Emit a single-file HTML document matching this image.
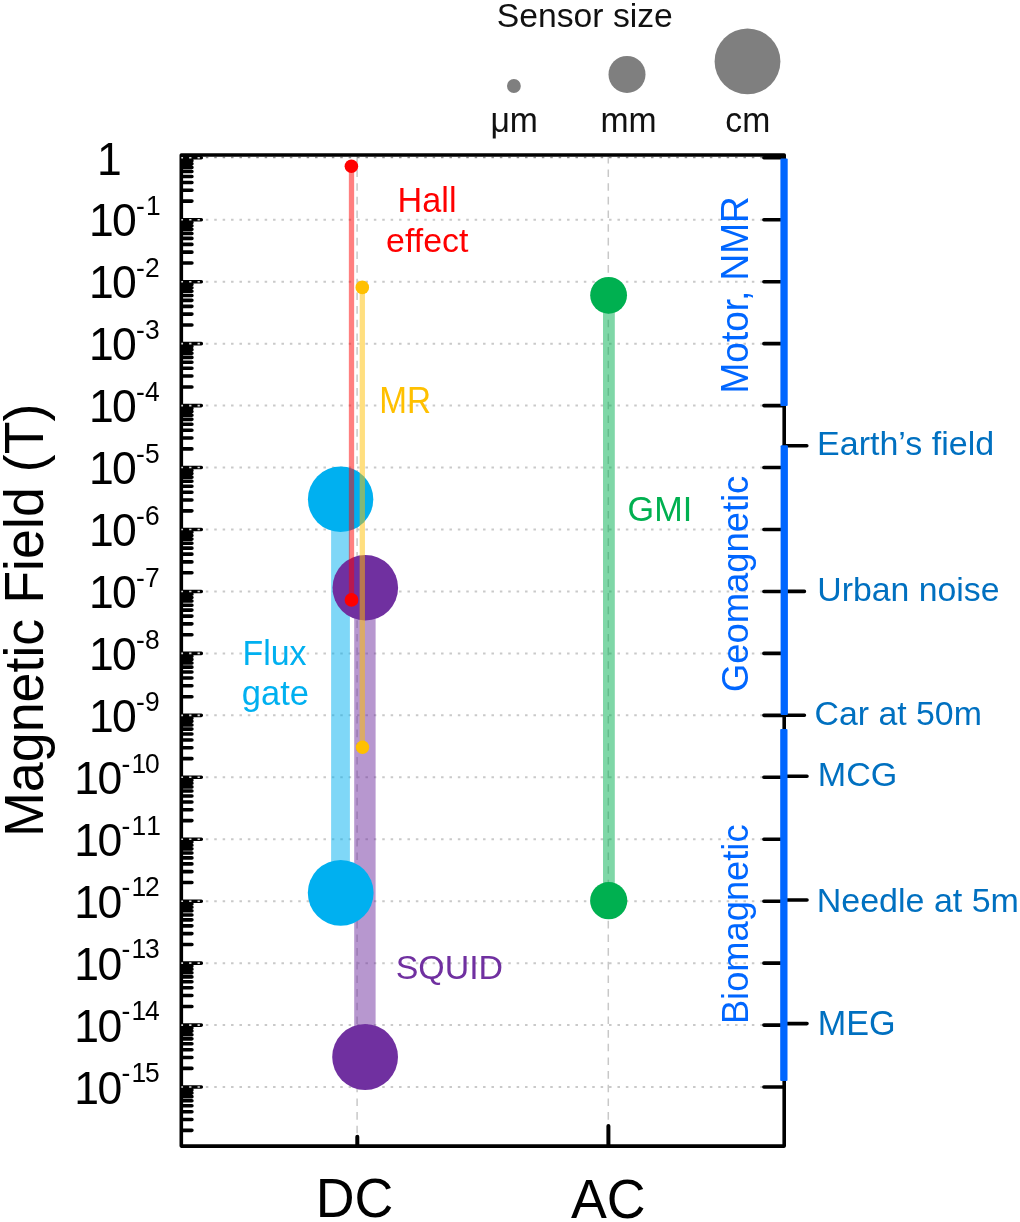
<!DOCTYPE html>
<html lang="en"><head><meta charset="utf-8"><title>Magnetic field sensors</title>
<style>html,body{margin:0;padding:0;background:#fff}body{width:1020px;height:1222px;overflow:hidden}svg{display:block;filter:blur(0.45px)}text{font-family:"Liberation Sans",Arial,Helvetica,sans-serif}</style></head><body>
<svg width="1020" height="1222" viewBox="0 0 1020 1222">
<rect width="1020" height="1222" fill="#fff"/>
<g fill="#7f7f7f"><circle cx="513.9" cy="86" r="6.9"/><circle cx="627" cy="74.4" r="18.5"/><circle cx="747.5" cy="61.4" r="32.9"/></g>
<text x="496.8" y="27" font-size="33.7" fill="#111">Sensor size</text>
<g font-size="33.7" fill="#111"><text transform="matrix(1 0 0 1.06 490.4 131.6)">μm</text><text transform="matrix(1 0 0 1.06 600.4 131.6)">mm</text><text transform="matrix(1 0 0 1.06 725.3 131.6)">cm</text></g>
<g stroke="#c8c8c8" stroke-width="1.5" stroke-dasharray="7.6 6.06" fill="none">
<path d="M357.1 155.84V1146.1"/><path d="M608.3 155.84V1146.1"/></g>
<path d="M181.3 157.5H784.2" stroke="#909090" stroke-width="1.6" stroke-dasharray="2.5 5.9" stroke-dashoffset="0.65" fill="none"/>
<path d="M181.3 219.75H784.2M181.3 281.70H784.2M181.3 343.65H784.2M181.3 405.60H784.2M181.3 467.55H784.2M181.3 529.50H784.2M181.3 591.45H784.2M181.3 653.40H784.2M181.3 715.35H784.2M181.3 777.30H784.2M181.3 839.25H784.2M181.3 901.20H784.2M181.3 963.15H784.2M181.3 1025.10H784.2M181.3 1087.05H784.2" stroke="#c9c9c9" stroke-width="2" stroke-dasharray="2.5 5.9" stroke-dashoffset="0.65" fill="none"/>
<g fill-opacity="0.5">
<rect x="603" y="295.3" width="11.8" height="605.4" fill="#00b050"/>
<rect x="354.2" y="587.8" width="21.4" height="469.2" fill="#7030a0"/>
<rect x="331.1" y="499.3" width="18.8" height="393.5" fill="#00b0f0"/>
</g>
<g><circle cx="340.6" cy="499.3" r="32.7" fill="#00b0f0"/><circle cx="340.7" cy="892.8" r="32.9" fill="#00b0f0"/><circle cx="365.3" cy="587.8" r="32.8" fill="#7030a0"/><circle cx="365.1" cy="1057" r="32.9" fill="#7030a0"/><circle cx="608.6" cy="295.3" r="18.4" fill="#00b050"/><circle cx="608.7" cy="900.7" r="18.6" fill="#00b050"/></g>
<g fill-opacity="0.5"><rect x="348.85" y="166.3" width="5.3" height="433.6" fill="#ff0000"/><rect x="359.65" y="287.4" width="5.3" height="459.8" fill="#ffc000"/></g>
<g><circle cx="351.4" cy="166.3" r="6.8" fill="#ff0000"/><circle cx="351.5" cy="599.9" r="6.9" fill="#ff0000"/><circle cx="362.3" cy="287.4" r="6.8" fill="#ffc000"/><circle cx="362.5" cy="747.2" r="6.7" fill="#ffc000"/></g>
<path d="M182.3 157.80H201.3M763.9 157.80H784.2M182.3 201.10H191.9M182.3 190.19H191.9M182.3 182.45H191.9M182.3 176.45H191.9M182.3 171.54H191.9M182.3 167.40H191.9M182.3 163.80H191.9M182.3 160.63H191.9M182.3 219.75H201.3M763.9 219.75H784.2M182.3 263.05H191.9M182.3 252.14H191.9M182.3 244.40H191.9M182.3 238.40H191.9M182.3 233.49H191.9M182.3 229.35H191.9M182.3 225.75H191.9M182.3 222.58H191.9M182.3 281.70H201.3M763.9 281.70H784.2M182.3 325.00H191.9M182.3 314.09H191.9M182.3 306.35H191.9M182.3 300.35H191.9M182.3 295.44H191.9M182.3 291.30H191.9M182.3 287.70H191.9M182.3 284.53H191.9M182.3 343.65H201.3M763.9 343.65H784.2M182.3 386.95H191.9M182.3 376.04H191.9M182.3 368.30H191.9M182.3 362.30H191.9M182.3 357.39H191.9M182.3 353.25H191.9M182.3 349.65H191.9M182.3 346.48H191.9M182.3 405.60H201.3M763.9 405.60H784.2M182.3 448.90H191.9M182.3 437.99H191.9M182.3 430.25H191.9M182.3 424.25H191.9M182.3 419.34H191.9M182.3 415.20H191.9M182.3 411.60H191.9M182.3 408.43H191.9M182.3 467.55H201.3M763.9 467.55H784.2M182.3 510.85H191.9M182.3 499.94H191.9M182.3 492.20H191.9M182.3 486.20H191.9M182.3 481.29H191.9M182.3 477.15H191.9M182.3 473.55H191.9M182.3 470.38H191.9M182.3 529.50H201.3M763.9 529.50H784.2M182.3 572.80H191.9M182.3 561.89H191.9M182.3 554.15H191.9M182.3 548.15H191.9M182.3 543.24H191.9M182.3 539.10H191.9M182.3 535.50H191.9M182.3 532.33H191.9M182.3 591.45H201.3M763.9 591.45H784.2M182.3 634.75H191.9M182.3 623.84H191.9M182.3 616.10H191.9M182.3 610.10H191.9M182.3 605.19H191.9M182.3 601.05H191.9M182.3 597.45H191.9M182.3 594.28H191.9M182.3 653.40H201.3M763.9 653.40H784.2M182.3 696.70H191.9M182.3 685.79H191.9M182.3 678.05H191.9M182.3 672.05H191.9M182.3 667.14H191.9M182.3 663.00H191.9M182.3 659.40H191.9M182.3 656.23H191.9M182.3 715.35H201.3M763.9 715.35H784.2M182.3 758.65H191.9M182.3 747.74H191.9M182.3 740.00H191.9M182.3 734.00H191.9M182.3 729.09H191.9M182.3 724.95H191.9M182.3 721.35H191.9M182.3 718.18H191.9M182.3 777.30H201.3M763.9 777.30H784.2M182.3 820.60H191.9M182.3 809.69H191.9M182.3 801.95H191.9M182.3 795.95H191.9M182.3 791.04H191.9M182.3 786.90H191.9M182.3 783.30H191.9M182.3 780.13H191.9M182.3 839.25H201.3M763.9 839.25H784.2M182.3 882.55H191.9M182.3 871.64H191.9M182.3 863.90H191.9M182.3 857.90H191.9M182.3 852.99H191.9M182.3 848.85H191.9M182.3 845.25H191.9M182.3 842.08H191.9M182.3 901.20H201.3M763.9 901.20H784.2M182.3 944.50H191.9M182.3 933.59H191.9M182.3 925.85H191.9M182.3 919.85H191.9M182.3 914.94H191.9M182.3 910.80H191.9M182.3 907.20H191.9M182.3 904.03H191.9M182.3 963.15H201.3M763.9 963.15H784.2M182.3 1006.45H191.9M182.3 995.54H191.9M182.3 987.80H191.9M182.3 981.80H191.9M182.3 976.89H191.9M182.3 972.75H191.9M182.3 969.15H191.9M182.3 965.98H191.9M182.3 1025.10H201.3M763.9 1025.10H784.2M182.3 1068.40H191.9M182.3 1057.49H191.9M182.3 1049.75H191.9M182.3 1043.75H191.9M182.3 1038.84H191.9M182.3 1034.70H191.9M182.3 1031.10H191.9M182.3 1027.93H191.9M182.3 1087.05H201.3M763.9 1087.05H784.2M182.3 1130.35H191.9M182.3 1119.44H191.9M182.3 1111.70H191.9M182.3 1105.70H191.9M182.3 1100.79H191.9M182.3 1096.65H191.9M182.3 1093.05H191.9M182.3 1089.88H191.9M784.2 445.70H806.8000000000001M784.2 591.40H804.4000000000001M784.2 715.20H804.4000000000001M784.2 776.20H807.0M784.2 900.00H807.0M784.2 1023.60H807.0" stroke="#000" stroke-width="3.6" stroke-linecap="round" fill="none"/>
<path d="M357.3 1146.1V1136.7M608.4 1146.1V1125.9" stroke="#000" stroke-width="4" stroke-linecap="round" fill="none"/>
<rect x="181.3" y="155.0" width="602.9" height="991.1" fill="none" stroke="#000" stroke-width="3.6" stroke-linejoin="round"/>
<path d="M181.3 157.80H203M181.3 219.75H203M181.3 281.70H203M181.3 343.65H203M181.3 405.60H203M181.3 467.55H203M181.3 529.50H203M181.3 591.45H203M181.3 653.40H203M181.3 715.35H203M181.3 777.30H203M181.3 839.25H203M181.3 901.20H203M181.3 963.15H203M181.3 1025.10H203M181.3 1087.05H203" stroke="#dcdcdc" stroke-width="1.6" stroke-dasharray="2.3 6.1" stroke-dashoffset="0.55" fill="none"/>
<g fill="#0066ff"><rect x="780.4" y="158.4" width="7.3" height="247.7" rx="1"/><rect x="780.6" y="445.3" width="7.3" height="269.6" rx="1"/><rect x="780.2" y="728.9" width="7.3" height="352" rx="1"/></g>
<g fill="#000">
<text transform="matrix(1 0 0 1.04 97.1 174.5)" font-size="44.5" style="font-kerning:none">1</text>
<text transform="matrix(1 0 0 1.04 87.3 236.4)" font-size="44.5" style="font-kerning:none"><tspan dx="1.6 -1.6">10</tspan><tspan font-size="26.4" dy="-20.67" dx="-0.7 1.2">-1</tspan></text>
<text transform="matrix(1 0 0 1.04 87.3 298.4)" font-size="44.5" style="font-kerning:none"><tspan dx="1.6 -1.6">10</tspan><tspan font-size="26.4" dy="-20.67" dx="-0.7 0">-2</tspan></text>
<text transform="matrix(1 0 0 1.04 87.3 360.4)" font-size="44.5" style="font-kerning:none"><tspan dx="1.6 -1.6">10</tspan><tspan font-size="26.4" dy="-20.67" dx="-0.7 0">-3</tspan></text>
<text transform="matrix(1 0 0 1.04 87.3 422.3)" font-size="44.5" style="font-kerning:none"><tspan dx="1.6 -1.6">10</tspan><tspan font-size="26.4" dy="-20.67" dx="-0.7 0">-4</tspan></text>
<text transform="matrix(1 0 0 1.04 87.3 484.2)" font-size="44.5" style="font-kerning:none"><tspan dx="1.6 -1.6">10</tspan><tspan font-size="26.4" dy="-20.67" dx="-0.7 0">-5</tspan></text>
<text transform="matrix(1 0 0 1.04 87.3 546.2)" font-size="44.5" style="font-kerning:none"><tspan dx="1.6 -1.6">10</tspan><tspan font-size="26.4" dy="-20.67" dx="-0.7 0">-6</tspan></text>
<text transform="matrix(1 0 0 1.04 87.3 608.2)" font-size="44.5" style="font-kerning:none"><tspan dx="1.6 -1.6">10</tspan><tspan font-size="26.4" dy="-20.67" dx="-0.7 0">-7</tspan></text>
<text transform="matrix(1 0 0 1.04 87.3 670.1)" font-size="44.5" style="font-kerning:none"><tspan dx="1.6 -1.6">10</tspan><tspan font-size="26.4" dy="-20.67" dx="-0.7 0">-8</tspan></text>
<text transform="matrix(1 0 0 1.04 87.3 732.1)" font-size="44.5" style="font-kerning:none"><tspan dx="1.6 -1.6">10</tspan><tspan font-size="26.4" dy="-20.67" dx="-0.7 0">-9</tspan></text>
<text transform="matrix(1 0 0 1.04 72.7 794.0)" font-size="44.5" style="font-kerning:none"><tspan dx="1.6 -1.6">10</tspan><tspan font-size="26.4" dy="-20.67" dx="-0.7 1.2 -1.2">-10</tspan></text>
<text transform="matrix(1 0 0 1.04 72.7 856.0)" font-size="44.5" style="font-kerning:none"><tspan dx="1.6 -1.6">10</tspan><tspan font-size="26.4" dy="-20.67" dx="-0.7 1.2 0">-11</tspan></text>
<text transform="matrix(1 0 0 1.04 72.7 917.9)" font-size="44.5" style="font-kerning:none"><tspan dx="1.6 -1.6">10</tspan><tspan font-size="26.4" dy="-20.67" dx="-0.7 1.2 -1.2">-12</tspan></text>
<text transform="matrix(1 0 0 1.04 72.7 979.9)" font-size="44.5" style="font-kerning:none"><tspan dx="1.6 -1.6">10</tspan><tspan font-size="26.4" dy="-20.67" dx="-0.7 1.2 -1.2">-13</tspan></text>
<text transform="matrix(1 0 0 1.04 72.7 1041.8)" font-size="44.5" style="font-kerning:none"><tspan dx="1.6 -1.6">10</tspan><tspan font-size="26.4" dy="-20.67" dx="-0.7 1.2 -1.2">-14</tspan></text>
<text transform="matrix(1 0 0 1.04 72.7 1103.8)" font-size="44.5" style="font-kerning:none"><tspan dx="1.6 -1.6">10</tspan><tspan font-size="26.4" dy="-20.67" dx="-0.7 1.2 -1.2">-15</tspan></text>
</g>
<text transform="translate(43.2 837) rotate(-90) scale(1 1.045)" font-size="53.8" fill="#000">Magnetic Field (T)</text>
<text transform="matrix(1 0 0 1.03 315.7 1216.7)" font-size="53.75" fill="#000">DC</text>
<text transform="matrix(1 0 0 1.03 570.9 1218.2)" font-size="53.75" fill="#000">AC</text>
<g font-size="34.2">
<text transform="matrix(1 0 0 1.03 397.6 212.4)" fill="#ff0000">Hall</text><text x="386.1" y="252.4" fill="#ff0000" font-size="33.9">effect</text>
<text transform="matrix(1 0 0 1.09 379.2 412.7)" fill="#ffc000" font-size="33.3">MR</text>
<text transform="matrix(1 0 0 1.05 242.5 665.1)" fill="#00b0f0" font-size="33.9">Flux</text><text x="241.8" y="704.8" fill="#00b0f0" font-size="34.5">gate</text>
<text x="627.6" y="521" fill="#00b050">GMI</text>
<text x="395.7" y="978.6" fill="#7030a0" font-size="33.9">SQUID</text>
</g>
<g font-size="34" fill="#0070c0">
<text x="817.1" y="455.2">Earth’s field</text><text x="817.3" y="600.8" font-size="33.8">Urban noise</text><text x="814.5" y="724.5" font-size="33.85">Car at 50m</text>
<text x="817.8" y="785.6" font-size="34.1">MCG</text><text x="816.7" y="911.6">Needle at 5m</text><text x="817.8" y="1035" font-size="34.2">MEG</text></g>
<g fill="#0066ff">
<text transform="translate(748.3 393.5) rotate(-90) scale(1 1.04)" font-size="37">Motor, NMR</text>
<text transform="translate(747.9 692.1) rotate(-90) scale(1 1.02)" font-size="36.4">Geomagnetic</text>
<text transform="translate(748.3 1024.1) rotate(-90) scale(1 1.03)" font-size="36.3">Biomagnetic</text></g>
</svg></body></html>
